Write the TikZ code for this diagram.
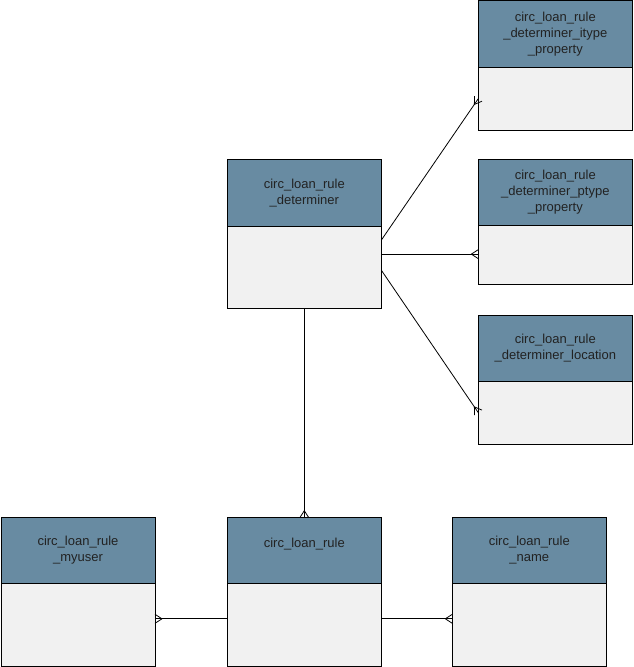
\documentclass[tikz,border=0pt]{standalone}
\usepackage{fontspec}
\setmainfont{Liberation Sans}
\usetikzlibrary{calc}
\definecolor{headblue}{RGB}{104,139,162}
\definecolor{bodygray}{RGB}{241,241,241}
\definecolor{textdark}{RGB}{34,34,34}
% crow's foot at the second end of a connector
\newcommand{\crowsfoot}[2]{%
    \draw[rel] ($(#2)!7pt!(#1)$) -- ($(#2)!4.5pt!90:(#1)$)
               ($(#2)!7pt!(#1)$) -- ($(#2)!4.5pt!-90:(#1)$);}

\begin{document}
\begin{tikzpicture}[x=1pt, y=-1pt,
    tabhead/.style = {draw, fill=headblue, text=textdark, line width=1pt,
                minimum width=154, minimum height=#1, inner sep=0pt,
                outer sep=0pt, align=center, anchor=north west,
                font=\fontsize{13}{16}\selectfont},
    tabbody/.style = {draw, fill=bodygray, line width=1pt, minimum width=154,
                minimum height=#1, inner sep=0pt, outer sep=0pt, anchor=north},
    rel/.style = {black, line width=0.8pt}
                    ]
        \useasboundingbox (0,0) rectangle (633,667);
        % tables: name / left / top / header height / body height / title
        \foreach \n/\x/\y/\hh/\bh/\t in {
                itype/478.3/0.7/66.6/62.7/{circ\_loan\_rule\\\_determiner\_itype\\\_property},
                ptype/478.3/159.3/66/59/{circ\_loan\_rule\\\_determiner\_ptype\\\_property},
                loc/478.3/315.7/65.6/62.7/{circ\_loan\_rule\\\_determiner\_location},
                det/227.3/159.3/67/81.7/{circ\_loan\_rule\\\_determiner},
                myuser/1/517.7/65.6/83/{circ\_loan\_rule\\\_myuser},
                rule/227.3/517.7/65.6/83/{circ\_loan\_rule\\\mbox{}},
                name/452.3/517.7/65.6/83/{circ\_loan\_rule\\\_name}} {
            \node[tabhead=\hh] at (\x,\y) (\n-h) {\t};
            \node[tabbody=\bh] at (\n-h.south) (\n-b) {};
        }
        \coordinate (d1) at ([yshift=27]det-b.east);
        \coordinate (d2) at ([yshift=13]det-b.east);
        \coordinate (d3) at ([yshift=-3]det-b.east);
        \coordinate (r1) at ([yshift=6]rule-b.west);
        \coordinate (r2) at ([yshift=6]rule-b.east);
        \coordinate (m1) at ([yshift=6]myuser-b.east);
        \coordinate (n1) at ([yshift=6]name-b.west);
        \draw [rel] (d1) -- (itype-b.west);
        \crowsfoot{d1}{itype-b.west}
        \draw [rel] (d2) -- (d2 -| ptype-b.west);
        \crowsfoot{d2}{d2 -| ptype-b.west}
        \draw [rel] (d3) -- (loc-b.west);
        \crowsfoot{d3}{loc-b.west}
        \draw [rel] (det-b.south) -- (rule-h.north);
        \crowsfoot{det-b.south}{rule-h.north}
        \draw [rel] (r1) -- (m1);
        \crowsfoot{r1}{m1}
        \draw [rel] (r2) -- (n1);
        \crowsfoot{r2}{n1}
    \end{tikzpicture}
\end{document}
